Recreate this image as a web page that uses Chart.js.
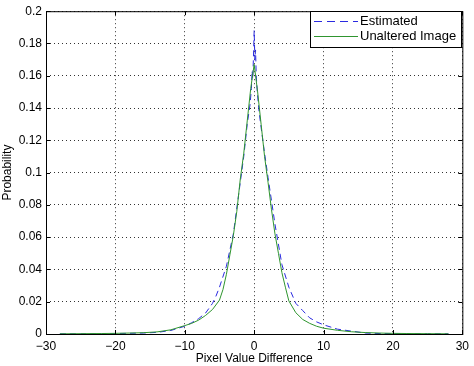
<!DOCTYPE html>
<html>
<head>
<meta charset="utf-8">
<script src="https://cdn.jsdelivr.net/npm/chart.js@4/dist/chart.umd.min.js"></script>
<style>
html, body { margin: 0; padding: 0; background: #fff; }
</style>
</head>
<body>
<canvas id="Chart" width="474" height="366"></canvas>
<script>
// estimated pmf of pixel value differences
const xBlue = [-28, -25, -22, -20, -18, -16, -14, -12, -10, -9, -8, -7, -6, -5.5, -5, -4, -3, -2, -1.5, -1,
    -0.6, -0.4, -0.3, -0.2, -0.1, 0, 0.1, 0.2, 0.3, 0.45, 0.7, 1, 1.5, 2, 3, 4, 5, 6, 7, 8, 9, 10,
    12, 14, 16, 18, 20, 22, 25, 28];
const yBlue = [0.0001, 0.0001, 0.0002, 0.0003, 0.0004, 0.0006, 0.0010, 0.0022, 0.0048, 0.0070, 0.0095, 0.0130, 0.0190, 0.0235, 0.0290, 0.0420, 0.0620, 0.0940, 0.1100, 0.1300,
    0.1420, 0.1520, 0.1630, 0.1580, 0.1720, 0.1880, 0.1700, 0.1760, 0.1600, 0.1500, 0.1380, 0.1280, 0.1120, 0.0970, 0.0680, 0.0430, 0.0290, 0.0190, 0.0145, 0.0100, 0.0075, 0.0057,
    0.0030, 0.0018, 0.0006, 0.0003, 0.0002, 0.0001, 0.0001, 0.0001];

// unaltered image
const xGreen = [-28, -25, -22, -20, -18, -16, -14, -12, -10, -9, -8, -7, -6, -5, -4.5, -4, -3.5, -3, -2.5, -2, -1.5, -1, -0.5, 0,
    0.5, 1, 1.5, 2, 2.5, 3, 3.5, 4, 4.5, 5, 6, 7, 8, 9, 10, 12, 14, 16, 18, 20, 22, 25, 28];
const yGreen = [0.0001, 0.0002, 0.0003, 0.0004, 0.0006, 0.0008, 0.0013, 0.0026, 0.0052, 0.0066, 0.0086, 0.0115, 0.0152, 0.0210, 0.0275, 0.0370, 0.0490, 0.0610, 0.0760, 0.0960, 0.1120, 0.1320, 0.1520, 0.1670,
    0.1500, 0.1300, 0.1100, 0.0940, 0.0770, 0.0620, 0.0500, 0.0380, 0.0290, 0.0205, 0.0132, 0.0090, 0.0066, 0.0048, 0.0036, 0.0023, 0.0014, 0.0009, 0.0006, 0.0004, 0.0003, 0.0002, 0.0001];

const seriesNames = ['Estimated', 'Unaltered Image'];
const xTicks = [-30, -20, -10, 0, 10, 20, 30];
const yTicks = [0, 0.02, 0.04, 0.06, 0.08, 0.1, 0.12, 0.14, 0.16, 0.18, 0.2];

const FONT = 'Liberation Sans, Arial, Helvetica, sans-serif';

function pts(xs, ys) {
    return xs.map((x, i) => ({x: x, y: ys[i]}));
}

// box round the axes, inward ticks and the legend, matlab style
const boxPlugin = {
    id: 'box',
    afterDraw(chart) {
        const ctx = chart.ctx;
        const a = chart.chartArea;
        const sx = chart.scales.x, sy = chart.scales.y;
        ctx.save();
        ctx.setLineDash([]);
        ctx.strokeStyle = '#000';
        ctx.lineWidth = 1;
        ctx.strokeRect(a.left + 0.5, a.top + 0.5, a.right - a.left, a.bottom - a.top);
        ctx.beginPath();
        xTicks.forEach(v => {
            const px = Math.round(sx.getPixelForValue(v)) + 0.5;
            ctx.moveTo(px, a.bottom); ctx.lineTo(px, a.bottom - 4);
            ctx.moveTo(px, a.top); ctx.lineTo(px, a.top + 4);
        });
        yTicks.forEach(v => {
            const py = Math.round(sy.getPixelForValue(v)) + 0.5;
            ctx.moveTo(a.left, py); ctx.lineTo(a.left + 4, py);
            ctx.moveTo(a.right, py); ctx.lineTo(a.right - 4, py);
        });
        ctx.stroke();

        // legend
        const lx = 310, ly = 11, lw = 151, lh = 36;
        ctx.fillStyle = '#fff';
        ctx.fillRect(lx, ly, lw, lh);
        ctx.strokeRect(lx + 0.5, ly + 0.5, lw, lh);
        ctx.font = '13px ' + FONT;
        ctx.textBaseline = 'middle';
        ctx.fillStyle = '#000';
        chart.data.datasets.forEach((ds, i) => {
            const yy = ly + 10.5 + i * 15;
            ctx.strokeStyle = ds.borderColor;
            ctx.setLineDash(i === 0 ? [8, 5] : []);
            ctx.beginPath();
            ctx.moveTo(lx + 4, yy); ctx.lineTo(lx + 48, yy);
            ctx.stroke();
            ctx.fillText(ds.label, lx + 50, yy);
        });
        ctx.restore();
    }
};

const config = {
    type: 'scatter',
    data: {
        datasets: [{
            label: seriesNames[0],
            data: pts(xBlue, yBlue),
            showLine: true,
            borderColor: '#2a2ae0',
            borderWidth: 1,
            borderDash: [6, 4],
            pointRadius: 0,
            order: 1
        }, {
            label: seriesNames[1],
            data: pts(xGreen, yGreen),
            showLine: true,
            borderColor: '#2f952f',
            borderWidth: 1,
            pointRadius: 0,
            order: 0
        }]
    },
    options: {
        responsive: false,
        animation: false,
        layout: {padding: {top: 4, right: 7, left: 0, bottom: 0}},
        plugins: {legend: {display: false}, tooltip: {enabled: false}},
        scales: {
            x: {
                type: 'linear', min: -30, max: 30,
                afterFit(s) { s.height = 32; },
                afterBuildTicks(s) { s.ticks = xTicks.map(v => ({value: v})); },
                ticks: {
                    padding: 5, color: '#000', font: {family: FONT, size: 12},
                    callback: v => String(v).replace('-', '\u2212')
                },
                grid: {color: '#333', drawTicks: false},
                border: {display: false, dash: [1, 3]},
                title: {display: true, text: 'Pixel Value Difference', color: '#000',
                        font: {family: FONT, size: 12}, padding: {top: 0, bottom: 0}}
            },
            y: {
                type: 'linear', min: 0, max: 0.2,
                afterFit(s) { s.width = 46; },
                afterBuildTicks(s) { s.ticks = yTicks.map(v => ({value: v})); },
                ticks: {
                    padding: 4, color: '#000', font: {family: FONT, size: 12},
                    callback: v => String(Number(v.toFixed(4)))
                },
                grid: {color: '#333', drawTicks: false},
                border: {display: false, dash: [1, 3]},
                title: {display: true, text: 'Probability', color: '#000',
                        font: {family: FONT, size: 12}, padding: {top: 0, bottom: 0}}
            }
        }
    },
    plugins: [boxPlugin]
};

var myChart = new Chart(document.getElementById('Chart'), config);
</script>
</body>
</html>
